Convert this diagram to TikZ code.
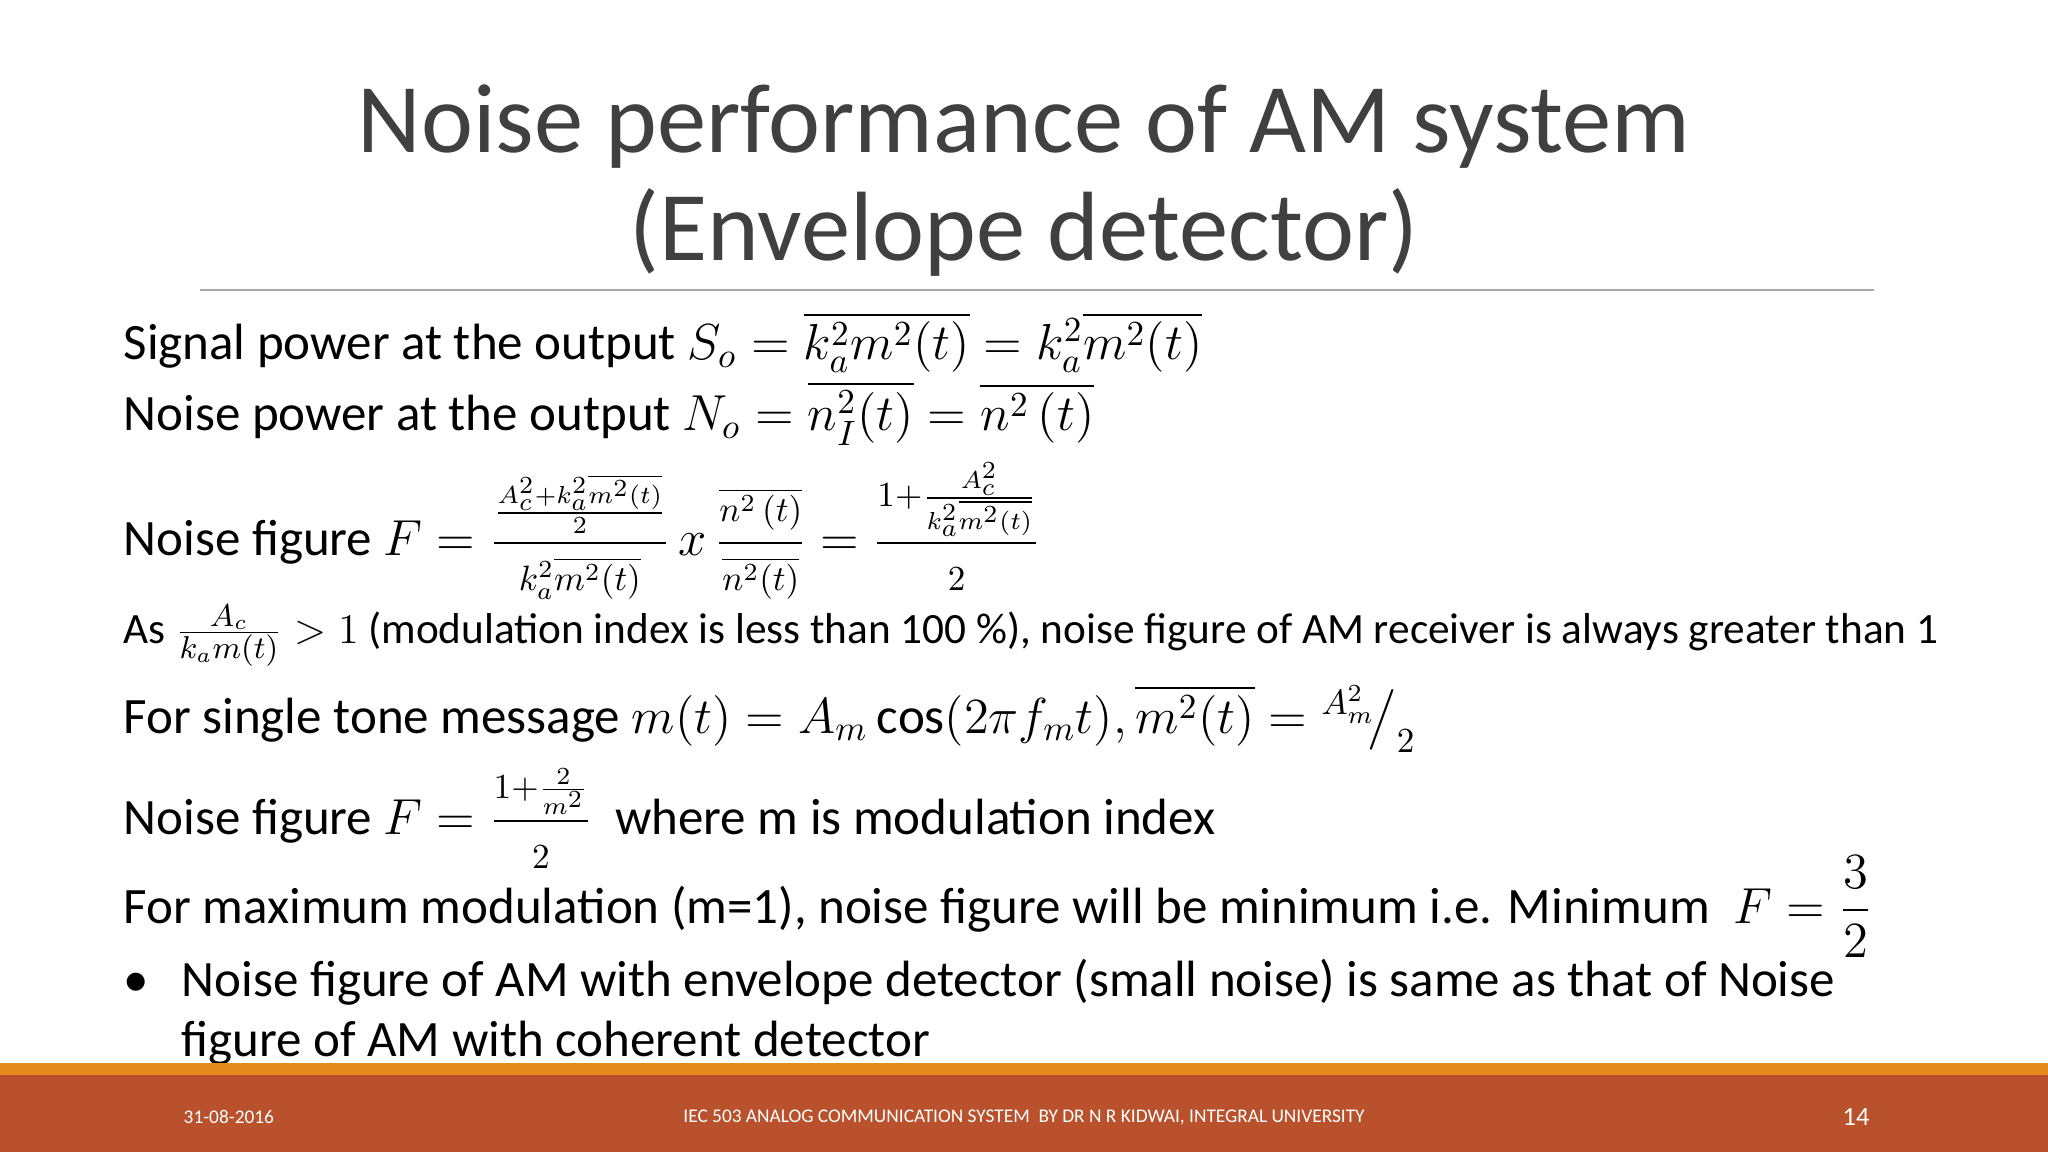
\documentclass[tikz,border=0pt]{standalone}
\usepackage{amsmath}
\usepackage{fontspec}
\setmainfont{Carlito}
\newfontfamily\titlefont{Carlito}
\definecolor{tgray}{HTML}{404040}
\definecolor{barorange}{HTML}{E48A1E}
\definecolor{barred}{HTML}{B9522C}
\tikzset{body/.style={anchor=base west,inner sep=0pt,font=\fontsize{14.5}{17}\selectfont},
foot/.style={inner sep=0pt,text=white,font=\fontsize{5.5}{7}\selectfont}}
\begin{document}
\begin{tikzpicture}[x=0.01cm,y=-0.01cm]
\useasboundingbox (0,0) rectangle (2048,1152);
\fill[white] (0,0) rectangle (2048,1152);
\node[inner sep=0pt,text=tgray,font=\fontsize{28}{33}\selectfont\titlefont] (t1) at (1024,127) {Noise performance of AM system};
\node[inner sep=0pt,text=tgray,font=\fontsize{28}{33}\selectfont\titlefont] (t2) at (1024,232) {(Envelope detector)};
\draw[gray!70,line width=0.8pt] (200,290) -- (1874,290);
\node[body] (l1) at (123,360) {Signal power at the output $S_o=\overline{k_a^2m^2(t)}=k_a^2\overline{m^2(t)}$};
\node[body] (l2) at (123,431) {Noise power at the output $N_o=\overline{n_I^2(t)}=\overline{n^2\,(t)}$};
\node[body] (l3) at (123,556) {Noise figure $F=\dfrac{\scriptstyle\frac{A_c^2+k_a^2\overline{m^2(t)}}{2}}{\scriptstyle k_a^2\overline{m^2(t)}}\,x\,\dfrac{\scriptstyle\overline{n^2\,(t)}}{\scriptstyle\overline{n^2(t)}}=\dfrac{\scriptstyle 1+\frac{A_c^2}{k_a^2\overline{m^2(t)}}}{\scriptstyle 2}$};
\node[body,font=\fontsize{12.3}{15}\selectfont] (l4) at (123,643) {As $\frac{A_c}{k_am(t)}>1$ (modulation index is less than 100 \%), noise figure of AM receiver is always greater than 1};
\node[body] (l5) at (123,733) {For single tone message $m(t)=A_m\cos(2\pi f_mt),\overline{m^2(t)}={}^{A_m^2}\!\big/_2$};
\node[body] (l6) at (123,834) {Noise figure $F=\dfrac{\scriptstyle 1+\frac{2}{m^2}}{\scriptstyle 2}$\ \ where m is modulation index};
\node[body] (l7) at (123,923) {For maximum modulation (m=1), noise figure will be minimum i.e. Minimum \ $F=\dfrac{3}{2}$};
\node[body] (b0) at (123,996) {\textbullet};
\node[body] (l8) at (181,996) {Noise figure of AM with envelope detector (small noise) is same as that of Noise};
\node[body] (l9) at (181,1056) {figure of AM with coherent detector};
\fill[barorange] (0,1063) rectangle (2048,1075);
\fill[barred] (0,1075) rectangle (2048,1152);
\node[foot,anchor=west] (f1) at (183,1117) {31-08-2016};
\node[foot] (f2) at (1024,1117) {IEC 503 ANALOG COMMUNICATION SYSTEM \ BY DR N R KIDWAI, INTEGRAL UNIVERSITY};
\node[foot,font=\fontsize{7.5}{9}\selectfont] (f3) at (1856,1117) {14};
\end{tikzpicture}
\end{document}
